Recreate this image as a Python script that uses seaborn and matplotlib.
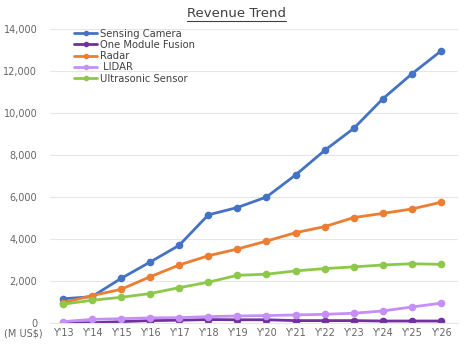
import matplotlib
matplotlib.use("Agg")
import matplotlib.pyplot as plt
import seaborn as sns
import pandas as pd
from matplotlib.lines import Line2D

years = ["Y'13", "Y'14", "Y'15", "Y'16", "Y'17", "Y'18", "Y'19", "Y'20",
         "Y'21", "Y'22", "Y'23", "Y'24", "Y'25", "Y'26"]
sensing_camera = [1150, 1250, 2120, 2900, 3700, 5150, 5500, 6000, 7050, 8220, 9270, 10680, 11870, 12960]
one_module_fusion = [0, 10, 60, 110, 130, 160, 150, 150, 110, 110, 110, 90, 90, 90]
radar = [960, 1300, 1600, 2200, 2760, 3200, 3520, 3900, 4300, 4590, 5020, 5220, 5430, 5750]
lidar = [60, 170, 200, 240, 250, 300, 330, 350, 380, 410, 460, 570, 760, 940]
ultrasonic = [890, 1080, 1220, 1400, 1680, 1940, 2270, 2320, 2480, 2590, 2670, 2760, 2820, 2790]

series_names = ["Sensing Camera", "One Module Fusion", "Radar", " LIDAR", "Ultrasonic Sensor"]
series_values = [sensing_camera, one_module_fusion, radar, lidar, ultrasonic]
colors = ["#4472C4", "#7030A0", "#ED7D31", "#C58FF5", "#8DC84B"]
yticks = [0, 2000, 4000, 6000, 8000, 10000, 12000, 14000]

rows = []
for name, vals in zip(series_names, series_values):
    for y, v in zip(years, vals):
        rows.append({"year": y, "value": v, "series": name})
df = pd.DataFrame(rows)

sns.set_style("white")
plt.rcParams['font.family'] = ['DejaVu Sans']

fig = plt.figure(figsize=(4.74, 3.51), dpi=100)
ax = fig.add_axes([0.105, 0.080, 0.861, 0.837])

sns.lineplot(data=df, x="year", y="value", hue="series", hue_order=series_names,
             palette=colors, marker="o", markersize=5.5, markeredgewidth=0,
             linewidth=2.0, ax=ax, legend=False, sort=False)

ax.set_ylim(0, 14000)
ax.set_xlim(-0.45, 13.58)
ax.set_yticks(yticks)
ax.set_yticklabels([f"{v:,}" for v in yticks])
ax.grid(axis="y", color="#E6E6E6", linewidth=0.8)
ax.set_axisbelow(True)
for s in ["top", "right", "left"]:
    ax.spines[s].set_visible(False)
ax.spines["bottom"].set_color("#E6E6E6")
ax.spines["bottom"].set_linewidth(0.8)
ax.tick_params(axis="y", length=0, labelsize=7, labelcolor="#666666", pad=9)
ax.tick_params(axis="x", length=0, labelsize=7, labelcolor="#666666", pad=4)
ax.set_xlabel("")
ax.set_ylabel("")

fig.text(0.008, 0.050, "(M US$)", fontsize=7, color="#666666", ha="left", va="center")

handles = [Line2D([0], [0], color=c, marker="o", markersize=4, markeredgewidth=0, linewidth=2)
           for c in colors]
ax.legend(handles, series_names, loc="upper left", bbox_to_anchor=(0.05, 1.015),
          frameon=False, fontsize=7.2, handlelength=2.3, handletextpad=0.3,
          labelspacing=0.12, borderaxespad=0, labelcolor="#404040")

t = fig.text(0.498, 0.962, "Revenue Trend", fontsize=9.5, color="#404040", ha="center", va="center")
fig.canvas.draw()
bb = t.get_window_extent().transformed(fig.transFigure.inverted())
fig.add_artist(Line2D([bb.x0, bb.x1], [bb.y0 - 0.002, bb.y0 - 0.002], color="#404040",
                      linewidth=0.8, transform=fig.transFigure))

fig.savefig("out.png", dpi=100)
